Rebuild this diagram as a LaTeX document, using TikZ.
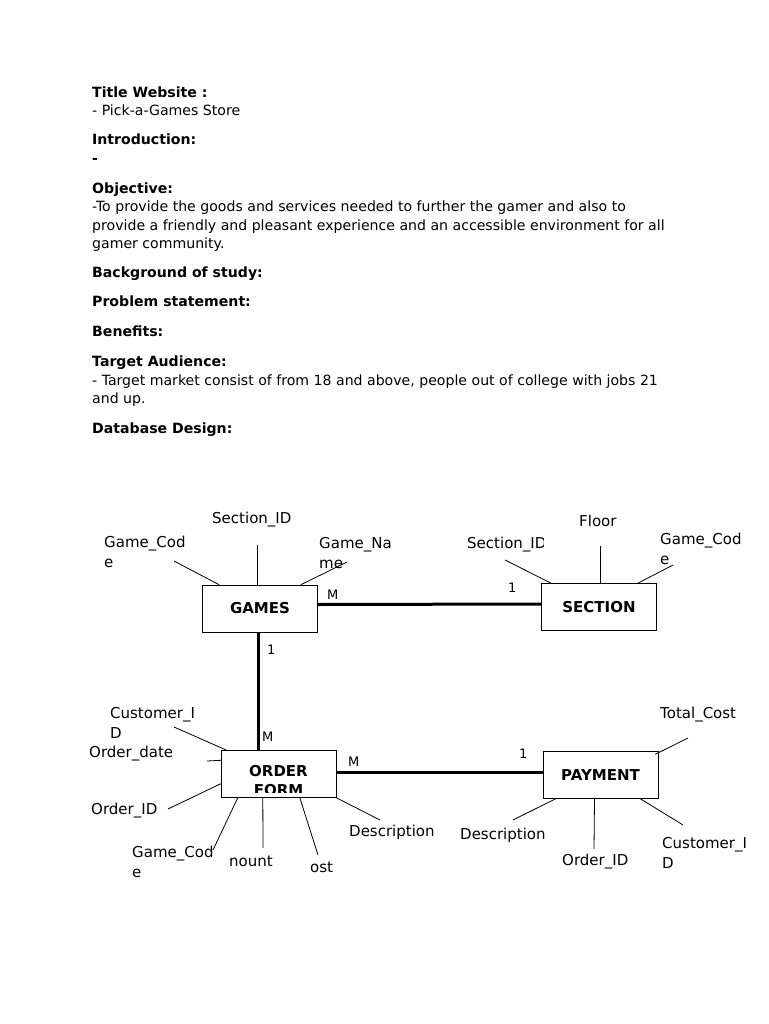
\documentclass[tikz,border=0pt]{standalone}
\usepackage{fontspec}
\setmainfont{DejaVu Sans}

\tikzset{
  head/.style={anchor=base west, inner sep=0pt, font=\fontsize{14.1}{16}\selectfont\bfseries},
  body/.style={anchor=base west, inner sep=0pt, font=\fontsize{14.1}{16}\selectfont},
  entity/.style={draw, minimum width=115pt, minimum height=47pt, inner sep=0pt,
    font=\fontsize{15}{19}\selectfont\bfseries},
  attrtext/.style={anchor=base west, inner sep=0pt, align=left,
    font=\fontsize{15}{20}\selectfont},
  card/.style={anchor=base west, inner sep=0pt, font=\fontsize{13}{15}\selectfont},
  rel/.style={line width=3pt},
  attr/.style={line width=0.8pt},
}

\begin{document}
\begin{tikzpicture}[x=1pt, y=-1pt]
    \fill[white] (0,0) rectangle (768,1024);
    \useasboundingbox (0,0) rectangle (768,1024);

    % Page text
    \node[head] (title) at (92,98) {Title Website :};
    \node[body] (titletxt) at (92,116) {- Pick-a-Games Store};
    \node[head] (intro) at (92,145) {Introduction:};
    \node[head] (introtxt) at (92,164) {-};
    \node[head] (obj) at (92,194) {Objective:};
    \node[body] (objtxt1) at (92,212) {-To provide the goods and services needed to further the gamer and also to};
    \node[body] (objtxt2) at (92,230) {provide a friendly and pleasant experience and an accessible environment for all};
    \node[body] (objtxt3) at (92,248) {gamer community.};
    \node[head] (backg) at (92,277) {Background of study:};
    \node[head] (problem) at (92,306) {Problem statement:};
    \node[head] (benefit) at (92,336) {Benefits:};
    \node[head] (target) at (92,366) {Target Audience:};
    \node[body] (targettxt1) at (92,385) {- Target market consist of from 18 and above, people out of college with jobs 21};
    \node[body] (targettxt2) at (92,403) {and up.};
    \node[head] (dbdesign) at (92,433) {Database Design:};

    % Entities
    \node[entity] (games) at (260,608.5) {GAMES};
    \node[entity] (section) at (599,607) {SECTION};
    \node[entity] (order) at (278.5,774) {};
    \begin{scope}
      \clip (order.north west) rectangle ([yshift=5pt]order.south east);
      \node[anchor=base, align=center, inner sep=0pt, font=\fontsize{15}{19}\selectfont\bfseries]
        (ordertxt) at ([yshift=-21pt]order.center) {ORDER\\FORM};
    \end{scope}
    \node[entity] (payment) at (600.5,775) {PAYMENT};

    % Relationships
    \draw[rel] ([yshift=4pt]games.east) -- ([yshift=3pt]section.west);
    \draw[rel] ([xshift=-2pt]games.south) -- ([xshift=-2pt]games.south |- order.north);
    \draw[rel] ([yshift=2pt]order.east) -- ([yshift=3pt]payment.west);

    \node[card] (m1) at (327,599) {M};
    \node[card] (o1) at (508,592) {1};
    \node[card] (o2) at (267,654) {1};
    \node[card] (m2) at (262,741) {M};
    \node[card] (m3) at (348,766) {M};
    \node[card] (o3) at (519,758) {1};

    % Attributes of GAMES
    \node[attrtext] (gcode) at (104,567) {Game\_Cod\\e};
    \node[attrtext] (gsid) at (212,523) {Section\_ID};
    \node[attrtext] (gname) at (319,568) {Game\_Na\\me};
    \draw[attr] (174,561) coordinate (gcode-end) -- ([xshift=17pt]games.north west);
    \draw[attr] (257,545) coordinate (gsid-end) -- ([xshift=-3pt]games.north);
    \draw[attr] (347,562) coordinate (gname-end) -- ([xshift=-17pt]games.north east);

    % Attributes of SECTION
    \begin{scope}
      \clip (460,520) rectangle (543,560);
      \node[attrtext] (ssid) at (467,548) {Section\_ID};
    \end{scope}
    \node[attrtext] (sfloor) at (579,526) {Floor};
    \node[attrtext] (scode) at (660,564) {Game\_Cod\\e};
    \draw[attr] (505,560) coordinate (ssid-end) -- ([xshift=10pt]section.north west);
    \draw[attr] (600,546) coordinate (sfloor-end) -- ([xshift=1pt]section.north);
    \draw[attr] (673,565) coordinate (scode-end) -- ([xshift=-19pt]section.north east);

    % Attributes of ORDER FORM
    \node[attrtext] (ocust) at (110,738) {Customer\_I\\D};
    \node[attrtext] (odate) at (89,757) {Order\_date};
    \node[attrtext] (oid) at (91,814) {Order\_ID};
    \node[attrtext] (ocode) at (132,877) {Game\_Cod\\e};
    \node[attrtext] (oamount) at (229,866) {nount};
    \node[attrtext] (ocost) at (310,872) {ost};
    \node[attrtext] (odesc) at (349,836) {Description};
    \draw[attr] (174,727) coordinate (ocust-end) -- ([xshift=6pt]order.north west);
    \draw[attr] (207,761) coordinate (odate-end) -- ([yshift=-10pt]order.north west);
    \draw[attr] (168,809) coordinate (oid-end) -- ([yshift=14pt]order.south west);
    \draw[attr] (213,850) coordinate (ocode-end) -- ([xshift=17pt]order.south west);
    \draw[attr] (263,848) coordinate (oamount-end) -- ([xshift=42pt]order.south west);
    \draw[attr] (318,855) coordinate (ocost-end) -- ([xshift=79pt]order.south west);
    \draw[attr] (380,820) coordinate (odesc-end) -- (order.south east);

    % Attributes of PAYMENT
    \node[attrtext] (ptotal) at (660,718) {Total\_Cost};
    \node[attrtext] (pdesc) at (460,839) {Description};
    \node[attrtext] (poid) at (562,865) {Order\_ID};
    \node[attrtext] (pcust) at (662,868) {Customer\_I\\D};
    \draw[attr] (688,738) coordinate (ptotal-end) -- ([xshift=-3pt,yshift=-3pt]payment.north east);
    \draw[attr] (513,820) coordinate (pdesc-end) -- ([xshift=13pt]payment.south west);
    \draw[attr] (594,849) coordinate (poid-end) -- ([xshift=-6pt]payment.south);
    \draw[attr] (683,825) coordinate (pcust-end) -- ([xshift=-18pt]payment.south east);
  \end{tikzpicture}
\end{document}
